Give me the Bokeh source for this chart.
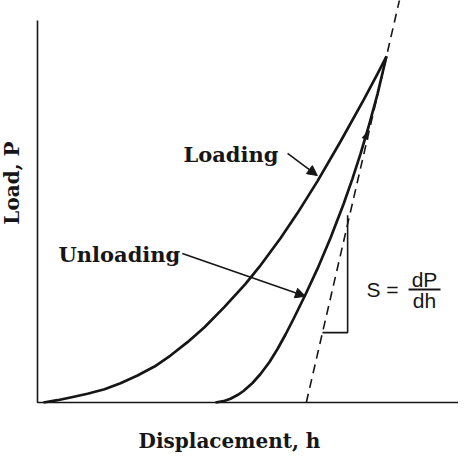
from math import pi
from bokeh.plotting import figure
from bokeh.models import Range1d, Label, Arrow, NormalHead
from bokeh.embed import file_html
from bokeh.resources import INLINE

# ---- data (h and P in % of the axis lengths) ----
loading_h = [1.41, 4.69, 7.75, 11.74, 15.73, 19.48, 23.47, 27.46, 31.22, 35.21, 39.20,
             43.90, 48.83, 52.11, 57.04, 61.03, 65.73, 71.13, 76.53, 79.81, 81.92]
loading_P = [0.00, 0.60, 1.31, 2.28, 3.48, 5.05, 7.07, 9.42, 12.30, 15.79, 19.71,
             25.03, 31.07, 35.55, 42.98, 49.58, 57.96, 68.32, 79.16, 86.02, 90.63]

unloading_h = [41.78, 43.66, 45.31, 46.95, 48.36, 50.47, 52.35, 54.46, 56.34, 58.22,
               60.09, 62.91, 65.73, 68.78, 71.83, 73.94, 75.82, 77.70, 79.81, 81.92]
unloading_P = [0.00, 0.34, 0.99, 1.96, 3.01, 5.10, 7.46, 10.60, 14.01, 17.80,
               21.86, 28.27, 35.03, 43.04, 51.88, 58.61, 65.10, 72.12, 80.73, 90.63]

tangent_h = [63.1, 85.94]
tangent_P = [0.0, 110.0]

slope_triangle_h = [66.9, 72.8, 72.8]
slope_triangle_P = [18.3, 18.3, 49.0]

axis_h = [0.0, 0.0, 100.0]
axis_P = [100.0, 0.0, 0.0]

x_title = "Displacement, h"
y_title = "Load, P"

INK = "#161616"
SERIF = "DejaVu Serif"
SANS = "Liberation Sans"

p = figure(width=458, height=454,
           x_range=Range1d(-8.685, 98.826), y_range=Range1d(-13.613, 105.236),
           output_backend="svg", toolbar_location=None, min_border=0)
p.axis.visible = False
p.grid.visible = False
p.outline_line_color = None
p.background_fill_color = "white"
p.border_fill_color = "white"

# axes
p.line(axis_h, axis_P, line_color=INK, line_width=1.6)

# curves
p.line(loading_h, loading_P, line_color=INK, line_width=2.7, line_join="round")
p.line(unloading_h, unloading_P, line_color=INK, line_width=2.7, line_join="round")

# tangent (stiffness) line
p.line(tangent_h, tangent_P, line_color=INK, line_width=1.6, line_dash="9 6")

# slope triangle
p.line(slope_triangle_h, slope_triangle_P, line_color=INK, line_width=1.6)

# labels
p.add_layout(Label(x=34.27, y=65.05, text="Loading", text_font=SERIF, text_font_style="bold",
                   text_font_size="21px", text_color=INK, text_align="left", text_baseline="alphabetic"))
p.add_layout(Label(x=4.93, y=38.87, text="Unloading", text_font=SERIF, text_font_style="bold",
                   text_font_size="21px", text_color=INK, text_align="left", text_baseline="alphabetic"))

# arrows
p.add_layout(Arrow(x_start=58.7, y_start=65.2, x_end=65.7, y_end=59.4, line_color=INK, line_width=1.6,
                   end=NormalHead(size=10, fill_color=INK, line_color=INK)))
p.add_layout(Arrow(x_start=34.0, y_start=39.0, x_end=62.9, y_end=27.8, line_color=INK, line_width=1.6,
                   end=NormalHead(size=10, fill_color=INK, line_color=INK)))
p.add_layout(Arrow(x_start=76.5, y_start=67.6, x_end=77.3, y_end=70.6, line_color=INK, line_width=1.0,
                   end=NormalHead(size=6, fill_color=INK, line_color=INK)))

# S = dP/dh
p.add_layout(Label(x=77.23, y=29.58, text="S =", text_font=SANS, text_font_size="21px",
                   text_color=INK, text_align="left", text_baseline="alphabetic"))
p.add_layout(Label(x=90.85, y=32.2, text="dP", text_font=SANS, text_font_size="21px",
                   text_color=INK, text_align="center", text_baseline="alphabetic"))
p.add_layout(Label(x=90.85, y=26.7, text="dh", text_font=SANS, text_font_size="21px",
                   text_color=INK, text_align="center", text_baseline="alphabetic"))
p.segment(x0=[87.1], y0=[29.58], x1=[94.6], y1=[29.58], line_color=INK, line_width=1.8)

# axis titles
p.add_layout(Label(x=45.07, y=-10.1, text=x_title, text_font=SERIF, text_font_style="bold",
                   text_font_size="20px", text_color=INK, text_align="center", text_baseline="alphabetic"))
p.add_layout(Label(x=-5.87, y=57.46, text=y_title, text_font=SERIF, text_font_style="bold",
                   text_font_size="20px", text_color=INK, text_align="center", text_baseline="alphabetic",
                   angle=pi / 2))

open("out.html", "w").write(file_html(p, INLINE))
